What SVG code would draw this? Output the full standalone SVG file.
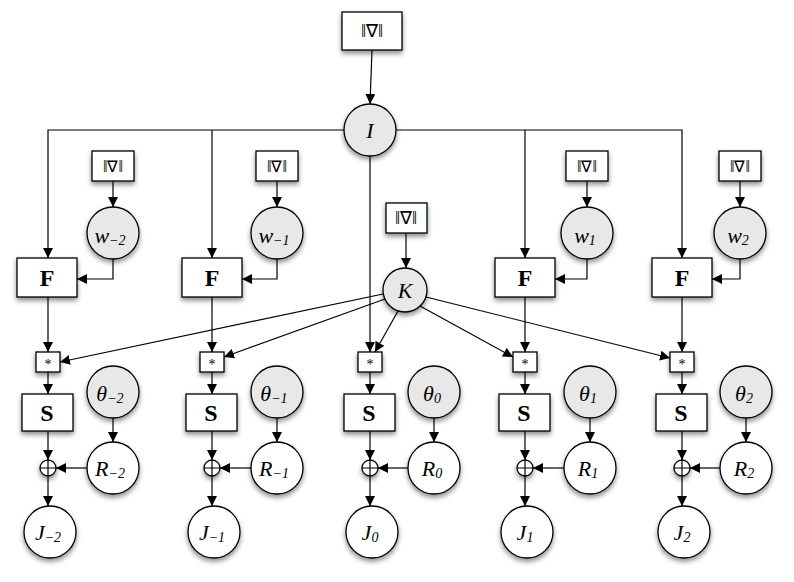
<svg xmlns="http://www.w3.org/2000/svg" width="794" height="582" viewBox="0 0 794 582">
<defs>
<marker id="a" viewBox="0 0 10 10" refX="10" refY="5" markerWidth="10" markerHeight="10" markerUnits="userSpaceOnUse" orient="auto"><path d="M0,0 L10,5 L0,10 z" fill="#000"/></marker>
<filter id="sh" x="-30%" y="-30%" width="160%" height="170%"><feDropShadow dx="0" dy="3" stdDeviation="2.5" flood-color="#000" flood-opacity="0.45"/></filter>
<style>
.b{fill:#fff;stroke:#000;stroke-width:1.3;filter:url(#sh)}
.g{fill:#e8e8e8;stroke:#000;stroke-width:1.3;filter:url(#sh)}
.w{fill:#fff;stroke:#000;stroke-width:1.3;filter:url(#sh)}
.c path,.c line,.c polyline{fill:none;stroke:#000;stroke-width:1.2;marker-end:url(#a)}
text{font-family:"Liberation Serif",serif;text-anchor:middle;dominant-baseline:central}
.m{font-style:italic;font-size:22px}
.s{font-size:14px}
.bf{font-weight:bold;font-size:24px}
.n{font-size:18px}
</style>
</defs>
<g id="grad0"><rect class="b" x="342" y="12" width="60" height="38"/><text x="372" y="31" class="n">‖∇‖</text></g>
<g id="I"><circle class="g" cx="370" cy="130" r="26"/><text x="370" y="130" class="m">I</text></g>
<g id="gradK"><rect class="b" x="386" y="203" width="41" height="30"/><text x="406" y="218" class="n" font-size="16">‖∇‖</text></g>
<g id="K"><circle class="g" cx="405" cy="290" r="22"/><text x="405" y="290" class="m">K</text></g>

<g id="col-2">
<rect class="b" x="92" y="151" width="42" height="30"/><text x="113" y="166" class="n" style="font-size:16px">‖∇‖</text>
<circle class="g" cx="113" cy="233" r="26"/><text x="110" y="235" class="m">w<tspan class="s" dy="5">−2</tspan></text>
<rect class="b" x="17" y="258" width="60" height="39"/><text x="47" y="278" class="bf">F</text>
<rect class="b" x="36" y="352" width="24" height="20"/><text x="48" y="364" style="font-size:14px">*</text>
<rect class="b" x="22" y="394" width="51" height="37"/><text x="47" y="413" class="bf">S</text>
<circle class="g" cx="113" cy="392" r="26"/><text x="110" y="393" class="m">θ<tspan class="s" dy="5">−2</tspan></text>
<circle class="w" cx="113" cy="468" r="26"/><text x="110" y="468" class="m">R<tspan class="s" dy="5">−2</tspan></text>
<circle class="w" cx="48" cy="468" r="8"/><path d="M40,468H56M48,460V476" stroke="#000" stroke-width="1.2"/>
<circle class="w" cx="50" cy="532" r="26"/><text x="48" y="532" class="m">J<tspan class="s" dy="5">−2</tspan></text>
</g>
<g id="col-1">
<rect class="b" x="256" y="151" width="42" height="30"/><text x="277" y="166" class="n" style="font-size:16px">‖∇‖</text>
<circle class="g" cx="277" cy="233" r="26"/><text x="274" y="235" class="m">w<tspan class="s" dy="5">−1</tspan></text>
<rect class="b" x="182" y="258" width="60" height="39"/><text x="212" y="278" class="bf">F</text>
<rect class="b" x="200" y="352" width="24" height="20"/><text x="212" y="364" style="font-size:14px">*</text>
<rect class="b" x="186" y="394" width="51" height="37"/><text x="211" y="413" class="bf">S</text>
<circle class="g" cx="277" cy="392" r="26"/><text x="274" y="393" class="m">θ<tspan class="s" dy="5">−1</tspan></text>
<circle class="w" cx="277" cy="468" r="26"/><text x="274" y="468" class="m">R<tspan class="s" dy="5">−1</tspan></text>
<circle class="w" cx="212" cy="468" r="8"/><path d="M204,468H220M212,460V476" stroke="#000" stroke-width="1.2"/>
<circle class="w" cx="214" cy="532" r="26"/><text x="212" y="532" class="m">J<tspan class="s" dy="5">−1</tspan></text>
</g>
<g id="col0">
<rect class="b" x="358" y="352" width="24" height="20"/><text x="370" y="364" style="font-size:14px">*</text>
<rect class="b" x="344" y="394" width="51" height="37"/><text x="369" y="413" class="bf">S</text>
<circle class="g" cx="434" cy="392" r="26"/><text x="432" y="393" class="m">θ<tspan class="s" dy="5">0</tspan></text>
<circle class="w" cx="434" cy="468" r="26"/><text x="432" y="468" class="m">R<tspan class="s" dy="5">0</tspan></text>
<circle class="w" cx="370" cy="468" r="8"/><path d="M362,468H378M370,460V476" stroke="#000" stroke-width="1.2"/>
<circle class="w" cx="372" cy="532" r="26"/><text x="370" y="532" class="m">J<tspan class="s" dy="5">0</tspan></text>
</g>
<g id="col1">
<rect class="b" x="566" y="151" width="42" height="30"/><text x="587" y="166" class="n" style="font-size:16px">‖∇‖</text>
<circle class="g" cx="587" cy="233" r="26"/><text x="585" y="235" class="m">w<tspan class="s" dy="5">1</tspan></text>
<rect class="b" x="495" y="258" width="60" height="39"/><text x="525" y="278" class="bf">F</text>
<rect class="b" x="513" y="352" width="24" height="20"/><text x="525" y="364" style="font-size:14px">*</text>
<rect class="b" x="499" y="394" width="51" height="37"/><text x="524" y="413" class="bf">S</text>
<circle class="g" cx="590" cy="392" r="26"/><text x="588" y="393" class="m">θ<tspan class="s" dy="5">1</tspan></text>
<circle class="w" cx="590" cy="468" r="26"/><text x="588" y="468" class="m">R<tspan class="s" dy="5">1</tspan></text>
<circle class="w" cx="525" cy="468" r="8"/><path d="M517,468H533M525,460V476" stroke="#000" stroke-width="1.2"/>
<circle class="w" cx="527" cy="532" r="26"/><text x="525" y="532" class="m">J<tspan class="s" dy="5">1</tspan></text>
</g>
<g id="col2">
<rect class="b" x="719" y="151" width="42" height="30"/><text x="740" y="166" class="n" style="font-size:16px">‖∇‖</text>
<circle class="g" cx="740" cy="233" r="26"/><text x="738" y="235" class="m">w<tspan class="s" dy="5">2</tspan></text>
<rect class="b" x="652" y="258" width="60" height="39"/><text x="682" y="278" class="bf">F</text>
<rect class="b" x="670" y="352" width="24" height="20"/><text x="682" y="364" style="font-size:14px">*</text>
<rect class="b" x="656" y="394" width="51" height="37"/><text x="681" y="413" class="bf">S</text>
<circle class="g" cx="746" cy="392" r="26"/><text x="744" y="393" class="m">θ<tspan class="s" dy="5">2</tspan></text>
<circle class="w" cx="746" cy="468" r="26"/><text x="744" y="468" class="m">R<tspan class="s" dy="5">2</tspan></text>
<circle class="w" cx="682" cy="468" r="8"/><path d="M674,468H690M682,460V476" stroke="#000" stroke-width="1.2"/>
<circle class="w" cx="684" cy="532" r="26"/><text x="682" y="532" class="m">J<tspan class="s" dy="5">2</tspan></text>
</g>
<g id="connectors" class="c">
<line x1="372" y1="50" x2="370" y2="104"/>
<path d="M344,130H48V258"/><path d="M212,130V258"/>
<path d="M396,130H682V258"/><path d="M525,130V258"/>
<line x1="370" y1="156" x2="370" y2="352"/>
<line x1="406" y1="233" x2="406" y2="268"/>
<line x1="383" y1="294" x2="60" y2="362"/>
<line x1="385" y1="299" x2="224" y2="357"/>
<line x1="398" y1="311" x2="375" y2="352"/>
<line x1="420" y1="306" x2="513" y2="357"/>
<line x1="426" y1="297" x2="670" y2="358"/>
<line x1="113" y1="181" x2="113" y2="207"/><path d="M113,259V279H77"/>
<line x1="277" y1="181" x2="277" y2="207"/><path d="M277,259V279H242"/>
<line x1="587" y1="181" x2="587" y2="207"/><path d="M587,259V279H555"/>
<line x1="740" y1="181" x2="740" y2="207"/><path d="M740,259V279H712"/>
<line x1="48" y1="297" x2="48" y2="352"/><line x1="48" y1="372" x2="48" y2="394"/><line x1="48" y1="431" x2="48" y2="460"/><line x1="48" y1="476" x2="48" y2="506"/><line x1="113" y1="418" x2="113" y2="442"/><line x1="87" y1="468" x2="56" y2="468"/>
<line x1="212" y1="297" x2="212" y2="352"/><line x1="212" y1="372" x2="212" y2="394"/><line x1="212" y1="431" x2="212" y2="460"/><line x1="212" y1="476" x2="212" y2="506"/><line x1="277" y1="418" x2="277" y2="442"/><line x1="251" y1="468" x2="220" y2="468"/>
<line x1="370" y1="372" x2="370" y2="394"/><line x1="370" y1="431" x2="370" y2="460"/><line x1="370" y1="476" x2="370" y2="506"/><line x1="434" y1="418" x2="434" y2="442"/><line x1="408" y1="468" x2="378" y2="468"/>
<line x1="525" y1="297" x2="525" y2="352"/><line x1="525" y1="372" x2="525" y2="394"/><line x1="525" y1="431" x2="525" y2="460"/><line x1="525" y1="476" x2="525" y2="506"/><line x1="590" y1="418" x2="590" y2="442"/><line x1="564" y1="468" x2="533" y2="468"/>
<line x1="682" y1="297" x2="682" y2="352"/><line x1="682" y1="372" x2="682" y2="394"/><line x1="682" y1="431" x2="682" y2="460"/><line x1="682" y1="476" x2="682" y2="506"/><line x1="746" y1="418" x2="746" y2="442"/><line x1="720" y1="468" x2="690" y2="468"/>
</g>
</svg>
